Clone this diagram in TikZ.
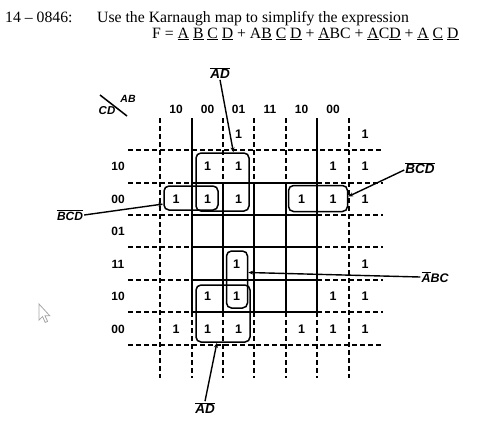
\documentclass[tikz,border=0pt]{standalone}
\usepackage{fontspec}
\setmainfont{Liberation Serif}[Ligatures=TeX]
\newfontfamily\lab{Liberation Sans}
\usetikzlibrary{arrows.meta,calc}
\newcommand\myol[1]{$\overline{\hbox{#1}}$}
\tikzset{
  sol/.style={line width=2bp},
  dsh/.style={line width=2bp, dash pattern=on 5bp off 3bp},
  grp/.style={draw, rounded corners=5bp, line width=1.5bp, inner sep=0pt},
  one/.style={font=\lab\bfseries\fontsize{12.5}{12.5}\selectfont, inner sep=0pt},
  hdr/.style={font=\lab\bfseries\fontsize{12}{12}\selectfont, inner sep=0pt},
  lbl/.style={font=\lab\bfseries\itshape\fontsize{13.5}{13.5}\selectfont, inner sep=1pt},
  ttl/.style={font=\fontsize{15.8}{18}\selectfont, inner sep=0pt, anchor=base west},
  ptr/.style={line width=1.4bp, -{Stealth[length=5bp,width=4bp]}}
}
\begin{document}
\begin{tikzpicture}[x=1bp,y=-1bp]
\useasboundingbox (0,0) rectangle (490,426);
% title
\node[ttl] (num) at (5,22) {14 – 0846:};
\node[ttl] (task) at (97,22) {Use the Karnaugh map to simplify the expression};
\node[ttl] (expr) at (152,38) {F = \underline{A} \underline{B} \underline{C} \underline{D} + A\underline{B} \underline{C} \underline{D} + \underline{A}BC + \underline{A}C\underline{D} + \underline{A} \underline{C} \underline{D}};
% grid
\foreach \x in {160,349} \draw[dsh] (\x,118) -- (\x,378);
\foreach \x in {192,317} {\draw[sol] (\x,118) -- (\x,312); \draw[dsh] (\x,312) -- (\x,378);}
\foreach \x in {223,254,286} {\draw[dsh] (\x,118) -- (\x,183); \draw[sol] (\x,183) -- (\x,312); \draw[dsh] (\x,312) -- (\x,378);}
\foreach \y in {150,345} \draw[dsh] (128,\y) -- (383,\y);
\foreach \y in {183,215,247,280,312} {\draw[dsh] (128,\y) -- (192,\y); \draw[sol] (192,\y) -- (317,\y); \draw[dsh] (317,\y) -- (383,\y);}
% headers
\draw[line width=1.5bp] (100,95) coordinate (dg1) -- (127,116) coordinate (dg2);
\node[font=\lab\bfseries\itshape\fontsize{11.5}{11.5}\selectfont, inner sep=0pt] (cdl) at (107,111) {CD};
\node[font=\lab\bfseries\itshape\fontsize{10.5}{10.5}\selectfont, inner sep=0pt] (abl) at (128,99) {AB};
\foreach \x/\t [count=\k] in {176/10,207.5/00,238.5/01,270/11,301.5/10,333/00}
  \node[hdr] (col\k) at (\x,109) {\t};
\foreach \y/\t [count=\k] in {166/10,199/00,231/01,264/11,296/10,329/00}
  \node[hdr] (row\k) at (118,\y) {\t};
% ones
\foreach \x/\y [count=\k] in {238.5/134,365/134,
  207.5/166,238.5/166,333/166,365/166,
  176/199,207.5/199,238.5/199,301.5/199,333/199,365/199,
  236.5/264,365/264,
  207.5/296,236.5/296,333/296,365/296,
  176/329,207.5/329,238.5/329,301.5/329,333/329,365/329}
  \node[one] (one\k) at (\x,\y) {1};
% groups
\node[grp, minimum width=53bp, minimum height=58bp] (adtop) at (222.5,182) {};
\node[grp, minimum width=54bp, minimum height=57bp] (adbot) at (223,313.5) {};
\node[grp, minimum width=54bp, minimum height=24bp] (bcdl) at (191,198) {};
\node[grp, minimum width=59bp, minimum height=26bp] (bcdr) at (318,198.5) {};
\node[grp, minimum width=21bp, minimum height=57bp] (abc) at (237,279.5) {};
% labels
\node[lbl] (adtopL) at (220,73) {\myol{A}\myol{D}};
\node[lbl] (adbotL) at (205,408) {\myol{A}\myol{D}};
\node[lbl, font=\lab\bfseries\itshape\fontsize{12}{12}\selectfont] (bcdlL) at (70,215) {\myol{B}\myol{C}\myol{D}};
\node[lbl] (bcdrL) at (420,168) {\myol{B}\myol{C}\myol{D}};
\node[lbl, font=\lab\bfseries\itshape\fontsize{12.5}{12.5}\selectfont] (abcL) at (435,277) {\myol{A}BC};
% pointers
\draw[ptr] (adtopL.south) -- ($(adtop.north west)!0.7!(adtop.north east)$);
\draw[ptr] (adbotL.north) -- ($(adbot.south west)!0.39!(adbot.south east)$);
\draw[ptr] (bcdlL.east) -- ($(bcdl.west)+(0,6)$);
\draw[ptr] ($(bcdrL.west)+(0,2)$) -- ($(bcdr.east)+(0,-2)$);
\draw[ptr] (abcL.west) -- ($(abc.east)+(0,-7)$);
% mouse cursor
\draw[gray!70, line width=0.8bp, fill=white, line join=miter]
  (39,304) coordinate (cur) -- (39,320) -- (42.6,316.6) -- (45.2,322.4) -- (47.6,321.4) -- (45,315.8) -- (49.8,315.8) -- cycle;
\end{tikzpicture}
\end{document}
